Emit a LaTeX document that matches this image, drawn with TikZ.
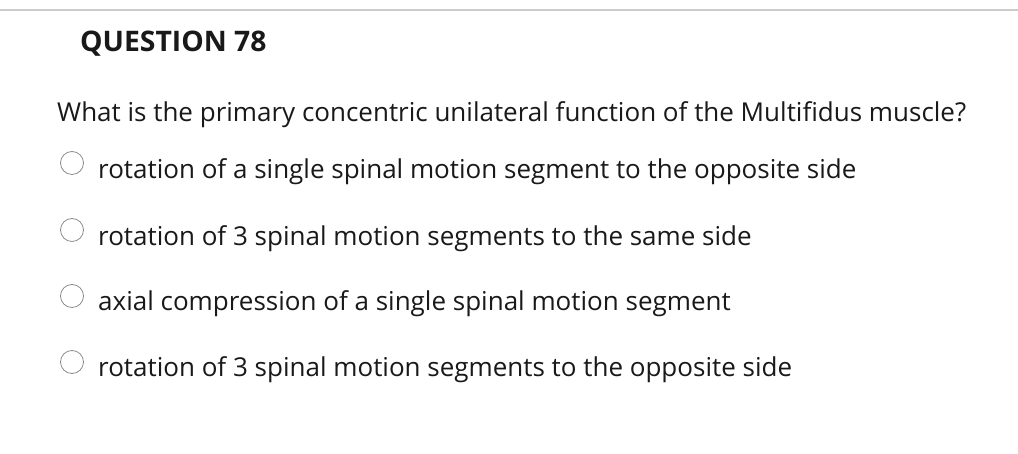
\documentclass[tikz,border=0pt]{standalone}
\usepackage{fontspec}
\setmainfont{Open Sans}
\begin{document}
\begin{tikzpicture}[x=1pt,y=1pt,
  txt/.style={anchor=base west,inner sep=0pt,font=\fontsize{26}{30}\selectfont,text=black!90},
  radio/.style={circle,draw=black!45,fill=white,minimum size=23pt,inner sep=0pt,line width=0.8pt}]
\useasboundingbox (0,0) rectangle (1018,454);
\fill[white] (0,0) rectangle (1018,454);
\coordinate (l1) at (0,444);
\coordinate (l2) at (1018,444);
\draw[black!20,line width=1.5pt] (l1) -- (l2);
\node[txt,font=\bfseries\fontsize{28.3}{32}\selectfont] (title) at (80,402) {QUESTION 78};
\node[txt] (q) at (57,332) {What is the primary concentric unilateral function of the Multifidus muscle?};
\node[radio] (r1) at (72,291) {};
\node[txt] (a1) at (98,275) {rotation of a single spinal motion segment to the opposite side};
\node[radio] (r2) at (72,224) {};
\node[txt] (a2) at (98,208) {rotation of 3 spinal motion segments to the same side};
\node[radio] (r3) at (72,158) {};
\node[txt] (a3) at (98,143) {axial compression of a single spinal motion segment};
\node[radio] (r4) at (72,92) {};
\node[txt] (a4) at (98,77) {rotation of 3 spinal motion segments to the opposite side};
\end{tikzpicture}
\end{document}
